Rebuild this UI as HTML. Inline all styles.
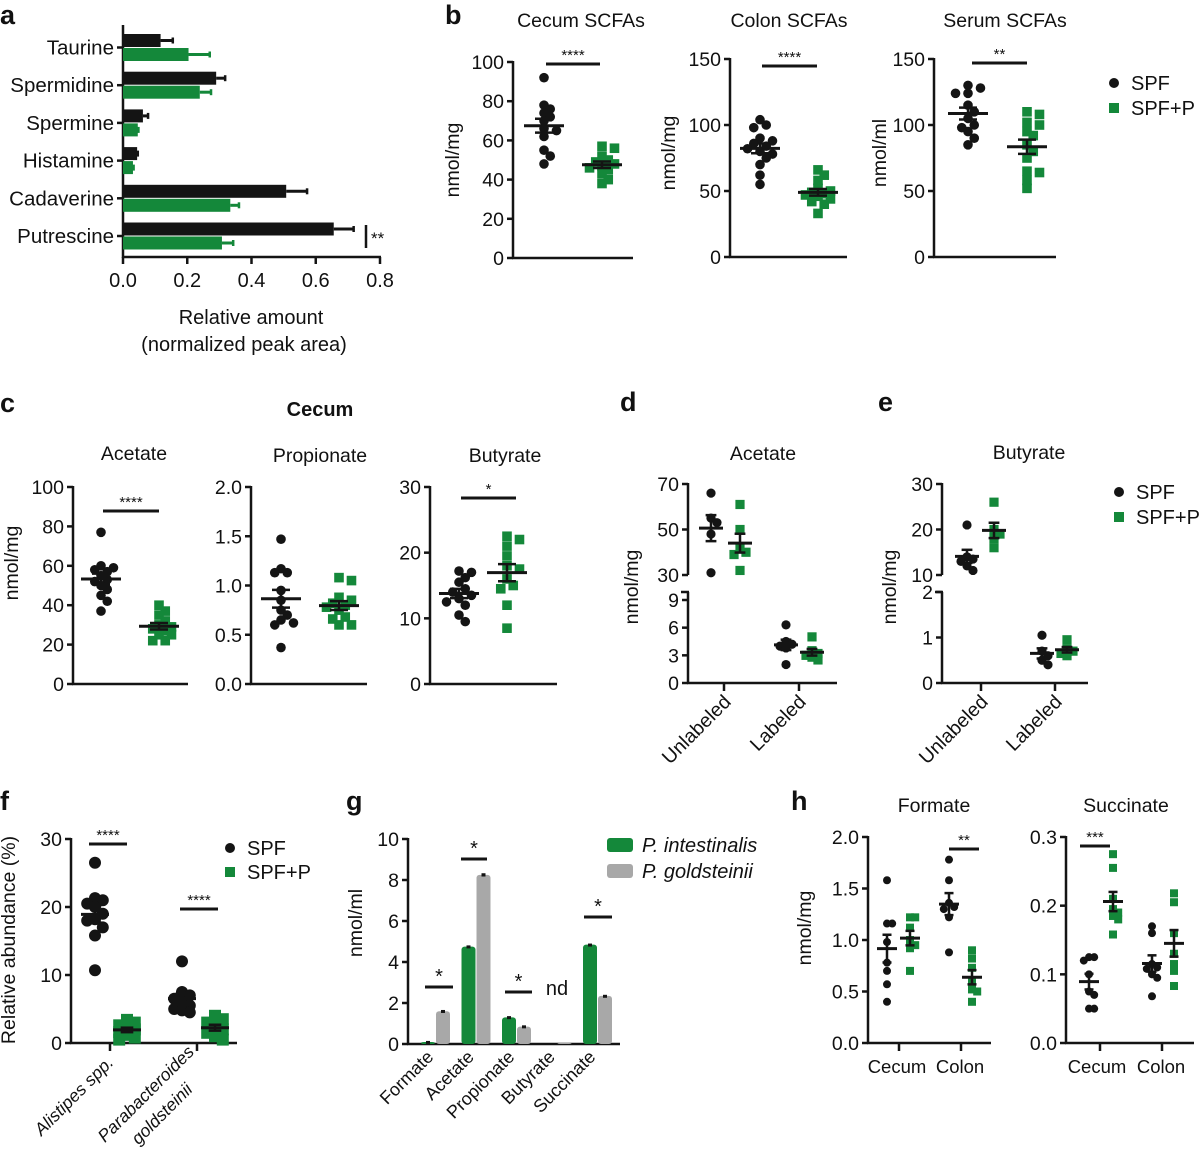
<!DOCTYPE html>
<html><head><meta charset="utf-8"><title>Figure</title>
<style>
html,body{margin:0;padding:0;background:#fff;}
svg{display:block;font-family:"Liberation Sans",Arial,sans-serif;}
</style></head>
<body>
<svg id="fig" width="1200" height="1149" viewBox="0 0 1200 1149"></svg>
<script>
// ---------- DATA ----------
// panel a
const aCategories=["Taurine","Spermidine","Spermine","Histamine","Cadaverine","Putrescine"];
const aSPF=[0.117,0.29,0.062,0.044,0.508,0.656];
const aSPFerr=[0.155,0.318,0.078,0.046,0.573,0.718];
const aSPFP=[0.204,0.239,0.046,0.031,0.334,0.308];
const aSPFPerr=[0.27,0.274,0.048,0.033,0.361,0.343];
const aTicks=[0,0.2,0.4,0.6,0.8];
const aTickLabels=["0.0","0.2","0.4","0.6","0.8"];
// panel b
const bCecumSPF=[92,78,76,72,74,70,65,66,62,55,52,48];
const bCecumSPFP=[57,56,52,50,48,49,47,46,45,43,40,38];
const bColonSPF=[104,100,98,90,88,86,84,82,80,78,75,70,62,55];
const bColonSPFP=[66,62,58,52,50,49,48,47,46,44,42,40,33];
const bSerumSPF=[130,128,124,124,115,110,105,100,98,95,90,85];
const bSerumSPFP=[110,108,102,100,95,92,85,80,75,65,64,58,52];
const bTicksCecum=[0,20,40,60,80,100];
const bTicks150=[0,50,100,150];
// panel c
const cAcetateSPF=[77,60,59,58,57,55,53,52,50,48,45,42,37];
const cAcetateSPFP=[40,37,35,32,30,29,28,27,25,25,22,22];
const cPropSPF=[1.47,1.17,1.13,1.13,0.95,0.85,0.75,0.7,0.65,0.62,0.6,0.37];
const cPropSPFP=[1.08,1.05,0.88,0.85,0.82,0.8,0.78,0.75,0.68,0.66,0.6,0.6];
const cButSPF=[17.2,17,16.2,15.5,14.5,14,13.5,13,12.5,12,10.5,9.5];
const cButSPFP=[22.5,22,21,19.5,18,17.5,16,15,14.5,12,8.5];
const cTicksAce=[0,20,40,60,80,100];
const cTicksProp=[0,0.5,1.0,1.5,2.0];
const cTickLabelsProp=["0.0","0.5","1.0","1.5","2.0"];
const cTicksBut=[0,10,20,30];
// panel d
const dUnlSPF=[66,55,53,48,31];
const dUnlSPFP=[61,50,42,40,39,32];
const dLabSPF=[6.3,4.5,4.2,4.0,3.8,2.0];
const dLabSPFP=[5,3.5,3.2,3.0,2.8,2.5];
const dTicksUpper=[30,50,70];
const dTicksLower=[0,3,6,9];
// panel e
const eUnlSPF=[21,14,13.5,13,12,11];
const eUnlSPFP=[26,20,19,18,16];
const eLabSPF=[1.05,0.7,0.6,0.5,0.4];
const eLabSPFP=[0.95,0.75,0.7,0.65,0.6];
const eTicksUpper=[10,20,30];
const eTicksLower=[0,1,2];
// panel f
const fAliSPF=[26.5,21.3,21,20.5,20,19,18.2,18,17,15.8,10.7];
const fAliSPFP=[3.4,3.0,2.6,2.2,2.0,1.6,1.2,0.8,0.5];
const fParaSPF=[12,7.5,7,6.5,6,5.5,5,4.8,4.5];
const fParaSPFP=[4,3.5,3,2.5,2,1.5,1,0.5];
const fTicks=[0,10,20,30];
// panel g
const gCategories=["Formate","Acetate","Propionate","Butyrate","Succinate"];
const gIntest=[0.1,4.75,1.3,0,4.85];
const gIntestErr=[0.05,0.06,0.06,0,0.05];
const gGold=[1.6,8.25,0.85,0.05,2.35];
const gGoldErr=[0.06,0.08,0.06,0,0.05];
const gTicks=[0,2,4,6,8,10];
// panel h
const hFormCecSPF=[1.58,1.16,1.16,0.98,0.78,0.7,0.57,0.4];
const hFormCecSPFP=[1.22,1.22,1.12,1.0,0.95,0.92,0.7];
const hFormColSPF=[1.78,1.58,1.36,1.32,1.3,1.22,0.88];
const hFormColSPFP=[0.9,0.82,0.73,0.6,0.52,0.5,0.4];
const hSuccCecSPF=[0.125,0.125,0.12,0.1,0.075,0.07,0.05,0.05];
const hSuccCecSPFP=[0.275,0.255,0.21,0.195,0.19,0.185,0.18,0.158];
const hSuccColSPF=[0.17,0.16,0.115,0.11,0.108,0.1,0.095,0.068];
const hSuccColSPFP=[0.218,0.205,0.16,0.13,0.115,0.105,0.083];
const hTicksForm=[0,0.5,1.0,1.5,2.0];
const hTickLabelsForm=["0.0","0.5","1.0","1.5","2.0"];
const hTicksSucc=[0,0.1,0.2,0.3];
const hTickLabelsSucc=["0.0","0.1","0.2","0.3"];

// ---------- HELPERS ----------
const NS="http://www.w3.org/2000/svg";
const svg=document.getElementById("fig");
const BLACK="#141414", GREEN="#14883a", GRAY="#a8a8a8";
function mk(tag,attrs,name,parent){
  const e=document.createElementNS(NS,tag);
  for(const k in attrs) e.setAttribute(k,attrs[k]);
  
  
  (parent||svg).appendChild(e);
  return e;
}
function txt(x,y,s,opt,name,parent){
  opt=opt||{};
  const e=mk("text",{x:x,y:y,"font-size":opt.size||19.5,"text-anchor":opt.anchor||"start",fill:opt.fill||"#111","font-weight":opt.weight||"normal","font-style":opt.style||"normal"},name,parent);
  if(opt.rot!==undefined) e.setAttribute("transform","rotate("+opt.rot+" "+x+" "+y+")");
  e.textContent=s;
  return e;
}
function line(x1,y1,x2,y2,w,name,color,parent){
  return mk("line",{x1:x1,y1:y1,x2:x2,y2:y2,stroke:color||BLACK,"stroke-width":w||2.5},name,parent);
}
function lin(d0,d1,r0,r1){return v=>r0+(v-d0)*(r1-r0)/(d1-d0);}
function mean(a){return a.reduce((s,v)=>s+v,0)/a.length;}
function sem(a){const m=mean(a);const v=a.reduce((s,x)=>s+(x-m)*(x-m),0)/(a.length-1);return Math.sqrt(v/a.length);}
function yAxis(g,ax,ticks,labels,y,name,sz){
  ticks.forEach((t,i)=>{
    line(ax-6,y(t),ax,y(t),2.5,name+"-tick",BLACK,g);
    txt(ax-9,y(t)+7,labels?labels[i]:String(t),{anchor:"end",size:sz||19.5},name+"-tick-label",g);
  });
}
function drawGroup(g,vals,cx,y,color,shape,r,halfMean,name,spread){
  const placed=[];
  const order=vals.map((v,i)=>i).sort((a,b)=>vals[b]-vals[a]);
  const step=r*1.3;
  const maxOff=spread||halfMean;
  order.forEach(i=>{
    const py=y(vals[i]);
    let off=0,best=null,bestD=-1;
    for(let k=0;k<20;k++){
      const o=(k===0)?0:((k%2?1:-1)*Math.ceil(k/2)*step);
      if(Math.abs(o)>maxOff) break;
      const d=placed.length?Math.min(...placed.map(p=>Math.hypot(p[0]-(cx+o),p[1]-py))):99;
      if(d>=r*1.5){best=o;break;}
      if(d>bestD){bestD=d;off=o;}
    }
    if(best!==null) off=best;
    placed.push([cx+off,py]);
    if(shape==="circle"){
      mk("circle",{cx:cx+off,cy:py,r:r,fill:color},name+"-point",g);
    }else{
      mk("rect",{x:cx+off-r,y:py-r,width:2*r,height:2*r,fill:color},name+"-point",g);
    }
  });
  const m=mean(vals),s=sem(vals);
  line(cx-halfMean,y(m),cx+halfMean,y(m),3,name+"-mean",BLACK,g);
  line(cx,y(m-s),cx,y(m+s),2.5,name+"-sem",BLACK,g);
  line(cx-halfMean*0.45,y(m+s),cx+halfMean*0.45,y(m+s),2.5,name+"-sem-cap",BLACK,g);
  line(cx-halfMean*0.45,y(m-s),cx+halfMean*0.45,y(m-s),2.5,name+"-sem-cap",BLACK,g);
}
function sig(g,x1,x2,yy,stars,name,sz){
  line(x1,yy,x2,yy,3,name+"-bar",BLACK,g);
  txt((x1+x2)/2,yy-4,stars,{anchor:"middle",size:sz||15},name+"-stars",g);
}
function group(name){return mk("g",{},name);}

// ---------- PANEL A ----------
(function(){
  const g=group("panel-a");
  txt(0,24,"a",{size:27,weight:"bold"},"panel-label-a",g);
  const x=lin(0,0.8,123,380);
  const rowY=i=>47.5+i*37.7;
  line(123,25,123,258,2.5,"y-axis",BLACK,g);
  line(122,257,381,257,2.5,"x-axis",BLACK,g);
  aTicks.forEach((t,i)=>{
    line(x(t),257,x(t),264,2.5,"x-tick",BLACK,g);
    txt(x(t),287,aTickLabels[i],{anchor:"middle",size:20}, "x-tick-label",g);
  });
  aCategories.forEach((c,i)=>{
    const cy=rowY(i);
    line(117,cy,123,cy,2.5,"y-tick",BLACK,g);
    txt(114,cy+7,c,{anchor:"end",size:20.5},"category-label",g);
    mk("rect",{x:123,y:cy-13.5,width:x(aSPF[i])-123,height:13,fill:BLACK},"bar-spf-"+c.toLowerCase(),g);
    line(x(aSPF[i]),cy-7,x(aSPFerr[i]),cy-7,3,"error-spf",BLACK,g);
    line(x(aSPFerr[i]),cy-10,x(aSPFerr[i]),cy-4,2.5,"error-cap-spf",BLACK,g);
    mk("rect",{x:123,y:cy+0.5,width:x(aSPFP[i])-123,height:13,fill:GREEN},"bar-spfp-"+c.toLowerCase(),g);
    line(x(aSPFP[i]),cy+7,x(aSPFPerr[i]),cy+7,3,"error-spfp",GREEN,g);
    line(x(aSPFPerr[i]),cy+4,x(aSPFPerr[i]),cy+10,2.5,"error-cap-spfp",GREEN,g);
  });
  line(366,225,366,248,2.5,"significance-line",BLACK,g);
  txt(371,244,"**",{size:17},"significance-stars",g);
  txt(251,324,"Relative amount",{anchor:"middle",size:20},"x-axis-title",g);
  txt(244,351,"(normalized peak area)",{anchor:"middle",size:20},"x-axis-subtitle",g);
})();

// ---------- generic scatter panel ----------
function scatterPanel(p){
  const g=group(p.name);
  const y=lin(p.d0,p.d1,p.y0,p.y1);
  line(p.ax,p.y1-1,p.ax,p.y0+1,2.5,"y-axis",BLACK,g);
  line(p.ax-1,p.y0,p.xEnd,p.y0,2.5,"x-axis",BLACK,g);
  yAxis(g,p.ax,p.ticks,p.labels,y,"y",p.tsz);
  (p.gticks||[]).forEach(t=>line(t,p.y0,t,p.y0+8,2.5,"group-tick",BLACK,g));
  p.groups.forEach(gr=>drawGroup(g,gr.vals,gr.cx,y,gr.color,gr.shape,p.r,p.half,gr.name,p.spread));
  if(p.title) txt(p.title[0],p.title[1],p.title[2],{anchor:"middle",size:19.5},"panel-title",g);
  if(p.ylab) txt(p.ylab[0],p.ylab[1],p.ylab[2],{anchor:"middle",size:19.5,rot:-90},"y-axis-title",g);
  (p.sigs||[]).forEach(s=>sig(g,s[0],s[1],s[2],s[3],"significance",s[4]));
  return g;
}
function spf(v,cx,n){return {vals:v,cx:cx,color:BLACK,shape:"circle",name:n+"-spf"};}
function spfp(v,cx,n){return {vals:v,cx:cx,color:GREEN,shape:"square",name:n+"-spfp"};}

// ---------- PANEL B ----------
txt(445,24,"b",{size:27,weight:"bold"},"panel-label-b");
scatterPanel({name:"panel-b-cecum",ax:513,xEnd:633,y0:258,y1:62,d0:0,d1:100,ticks:bTicksCecum,r:4.8,half:20,spread:18,
  groups:[spf(bCecumSPF,544,"cecum"),spfp(bCecumSPFP,602,"cecum")],title:[581,27,"Cecum SCFAs"],ylab:[459,160,"nmol/mg"],sigs:[[546,600,64,"****"]]});
scatterPanel({name:"panel-b-colon",ax:730,xEnd:847,y0:257,y1:59,d0:0,d1:150,ticks:bTicks150,r:4.8,half:20,spread:18,
  groups:[spf(bColonSPF,760,"colon"),spfp(bColonSPFP,818,"colon")],title:[789,27,"Colon SCFAs"],ylab:[675,153,"nmol/mg"],sigs:[[762,817,66,"****"]]});
scatterPanel({name:"panel-b-serum",ax:934,xEnd:1056,y0:257,y1:59,d0:0,d1:150,ticks:bTicks150,r:4.8,half:20,spread:18,
  groups:[spf(bSerumSPF,968,"serum"),spfp(bSerumSPFP,1027,"serum")],title:[1005,27,"Serum SCFAs"],ylab:[886,153,"nmol/ml"],sigs:[[972,1027,63,"**"]]});
function legend(x,y1,y2,name){
  const g=group(name);
  mk("circle",{cx:x,cy:y1,r:5,fill:BLACK},"legend-marker-spf",g);
  txt(x+17,y1+7,"SPF",{size:20},"legend-label-spf",g);
  mk("rect",{x:x-5,y:y2-5,width:10,height:10,fill:GREEN},"legend-marker-spfp",g);
  txt(x+17,y2+7,"SPF+P",{size:20},"legend-label-spfp",g);
}
legend(1114,83,108,"legend-b");

// ---------- PANEL C ----------
txt(0,412,"c",{size:27,weight:"bold"},"panel-label-c");
txt(320,416,"Cecum",{anchor:"middle",size:20,weight:"bold"},"panel-c-title");
scatterPanel({name:"panel-c-acetate",ax:73,xEnd:188,y0:684,y1:487,d0:0,d1:100,ticks:cTicksAce,r:4.8,half:20,spread:18,
  groups:[spf(cAcetateSPF,101,"acetate"),spfp(cAcetateSPFP,159,"acetate")],title:[134,460,"Acetate"],ylab:[18,563,"nmol/mg"],sigs:[[103,159,511,"****"]]});
scatterPanel({name:"panel-c-propionate",ax:251,xEnd:367,y0:684,y1:487,d0:0,d1:2,ticks:cTicksProp,labels:cTickLabelsProp,r:4.8,half:20,spread:18,
  groups:[spf(cPropSPF,281,"propionate"),spfp(cPropSPFP,339,"propionate")],title:[320,462,"Propionate"]});
scatterPanel({name:"panel-c-butyrate",ax:430,xEnd:557,y0:684,y1:487,d0:0,d1:30,ticks:cTicksBut,r:4.8,half:20,spread:18,
  groups:[spf(cButSPF,459,"butyrate"),spfp(cButSPFP,507,"butyrate")],title:[505,462,"Butyrate"],sigs:[[461,516,498,"*"]]});

// ---------- PANELS D/E (broken axes) ----------
function brokenPanel(p){
  const g=group(p.name);
  const yu=lin(p.u0,p.u1,p.uy0,p.uy1), yl=lin(p.l0,p.l1,p.ly0,p.ly1);
  const ySel=v=>v>p.l1?yu(v):yl(v);
  line(p.ax,p.uy1-1,p.ax,p.uy0,2.5,"y-axis-upper",BLACK,g);
  line(p.ax,p.lTop,p.ax,p.ly0+1,2.5,"y-axis-lower",BLACK,g);
  line(p.ax-7,p.lTop,p.ax+1,p.lTop,2.5,"axis-break-tick",BLACK,g);
  line(p.ax-1,p.ly0,p.xEnd,p.ly0,2.5,"x-axis",BLACK,g);
  yAxis(g,p.ax,p.uTicks,null,yu,"y-upper");
  yAxis(g,p.ax,p.lTicks,null,yl,"y-lower");
  p.gticks.forEach((t,i)=>{
    line(t,p.ly0,t,p.ly0+8,2.5,"group-tick",BLACK,g);
    txt(t+8,p.ly0+20,p.glabels[i],{anchor:"end",rot:-45,size:19.5},"x-tick-label",g);
  });
  p.groups.forEach(gr=>drawGroup(g,gr.vals,gr.cx,ySel,gr.color,gr.shape,4.6,12,gr.name,8));
  txt(p.title[0],p.title[1],p.title[2],{anchor:"middle"},"panel-title",g);
  txt(p.ylab[0],p.ylab[1],"nmol/mg",{anchor:"middle",rot:-90},"y-axis-title",g);
}
txt(620,411,"d",{size:27,weight:"bold"},"panel-label-d");
brokenPanel({name:"panel-d-acetate",ax:688,xEnd:837,u0:30,u1:70,uy0:575,uy1:484,l0:0,l1:9,ly0:683,ly1:600,lTop:592,
  uTicks:dTicksUpper,lTicks:dTicksLower,gticks:[724,799],glabels:["Unlabeled","Labeled"],
  groups:[spf(dUnlSPF,711,"unlabeled"),spfp(dUnlSPFP,740,"unlabeled"),spf(dLabSPF,786,"labeled"),spfp(dLabSPFP,812,"labeled")],
  title:[763,460,"Acetate"],ylab:[638,587]});
txt(878,411,"e",{size:27,weight:"bold"},"panel-label-e");
brokenPanel({name:"panel-e-butyrate",ax:942,xEnd:1088,u0:10,u1:30,uy0:575,uy1:484,l0:0,l1:2,ly0:683,ly1:592,lTop:592,
  uTicks:eTicksUpper,lTicks:eTicksLower,gticks:[981,1055],glabels:["Unlabeled","Labeled"],
  groups:[spf(eUnlSPF,967,"unlabeled"),spfp(eUnlSPFP,994,"unlabeled"),spf(eLabSPF,1042,"labeled"),spfp(eLabSPFP,1067,"labeled")],
  title:[1029,459,"Butyrate"],ylab:[896,587]});
legend(1119,492,517,"legend-e");

// ---------- PANEL F ----------
txt(0,810,"f",{size:27,weight:"bold"},"panel-label-f");
(function(){
  const g=scatterPanel({name:"panel-f",ax:71,xEnd:237,y0:1043,y1:839,d0:0,d1:30,ticks:fTicks,r:6,half:14,spread:12,gticks:[110,197],
    groups:[spf(fAliSPF,95,"alistipes"),spfp(fAliSPFP,127,"alistipes"),spf(fParaSPF,182,"parabacteroides"),spfp(fParaSPFP,215,"parabacteroides")],
    ylab:[15,940,"Relative abundance (%)"],sigs:[[89,127,844,"****"],[180,218,909,"****"]]});
  txt(78,1100,"Alistipes spp.",{anchor:"middle",rot:-45,style:"italic",size:17.5},"x-tick-label-alistipes",g);
  txt(150,1098,"Parabacteroides",{anchor:"middle",rot:-45,style:"italic",size:17.5},"x-tick-label-parabacteroides",g);
  txt(166,1118,"goldsteinii",{anchor:"middle",rot:-45,style:"italic",size:17.5},"x-tick-label-goldsteinii",g);
})();
legend(230,848,872,"legend-f");

// ---------- PANEL G ----------
txt(346,810,"g",{size:27,weight:"bold"},"panel-label-g");
(function(){
  const g=group("panel-g");
  const y=lin(0,10,1044,839);
  const cx=i=>435.5+i*40.5;
  line(408,838,408,1045,2.5,"y-axis",BLACK,g);
  line(407,1044,620,1044,2.5,"x-axis",BLACK,g);
  yAxis(g,408,gTicks,null,y,"y");
  gCategories.forEach((c,i)=>{
    const xc=cx(i);
    mk("rect",{x:xc-14.5,y:y(gIntest[i]),width:14,height:1044-y(gIntest[i]),fill:GREEN,rx:3},"bar-intestinalis-"+c.toLowerCase(),g);
    mk("rect",{x:xc+0.5,y:y(gGold[i]),width:14,height:1044-y(gGold[i]),fill:GRAY,rx:3},"bar-goldsteinii-"+c.toLowerCase(),g);
    if(gIntest[i]>0) mk("rect",{x:xc-9.5,y:y(gIntest[i]+gIntestErr[i]),width:4,height:Math.max(3,y(gIntest[i]-gIntestErr[i])-y(gIntest[i]+gIntestErr[i])),fill:BLACK},"error-intestinalis",g);
    if(gGold[i]>0.1) mk("rect",{x:xc+5.5,y:y(gGold[i]+gGoldErr[i]),width:4,height:Math.max(3,y(gGold[i]-gGoldErr[i])-y(gGold[i]+gGoldErr[i])),fill:BLACK},"error-goldsteinii",g);
    txt(xc-1,1058,c,{anchor:"end",rot:-45,size:18},"x-tick-label",g);
  });
  sig(g,425,453,987,"*","significance",20);
  sig(g,461,487,859,"*","significance",20);
  sig(g,505,532,992,"*","significance",20);
  sig(g,584,612,917,"*","significance",20);
  txt(557,995,"nd",{anchor:"middle",size:20},"not-detected-label",g);
  txt(362,923,"nmol/ml",{anchor:"middle",rot:-90},"y-axis-title",g);
  mk("rect",{x:607,y:838,width:26,height:14,fill:GREEN,rx:3},"legend-marker-intestinalis",g);
  txt(642,852,"P. intestinalis",{style:"italic",size:20},"legend-label-intestinalis",g);
  mk("rect",{x:607,y:864,width:26,height:14,fill:GRAY,rx:3},"legend-marker-goldsteinii",g);
  txt(642,878,"P. goldsteinii",{style:"italic",size:20},"legend-label-goldsteinii",g);
})();

// ---------- PANEL H ----------
txt(791,810,"h",{size:27,weight:"bold"},"panel-label-h");
(function(){
  const g1=scatterPanel({name:"panel-h-formate",ax:868,xEnd:991,y0:1043,y1:837,d0:0,d1:2,ticks:hTicksForm,labels:hTickLabelsForm,r:4,half:10,spread:7,gticks:[899,961],
    groups:[spf(hFormCecSPF,887,"formate-cecum"),spfp(hFormCecSPFP,910,"formate-cecum"),spf(hFormColSPF,949,"formate-colon"),spfp(hFormColSPFP,972,"formate-colon")],
    title:[934,812,"Formate"],ylab:[811,928,"nmol/mg"],sigs:[[949,979,849,"**"]]});
  txt(897,1073,"Cecum",{anchor:"middle",size:18.5},"x-tick-label",g1);
  txt(960,1073,"Colon",{anchor:"middle",size:18.5},"x-tick-label",g1);
  const g2=scatterPanel({name:"panel-h-succinate",ax:1066,xEnd:1194,y0:1043,y1:837,d0:0,d1:0.3,ticks:hTicksSucc,labels:hTickLabelsSucc,r:4,half:10,spread:7,gticks:[1100,1162],
    groups:[spf(hSuccCecSPF,1089,"succinate-cecum"),spfp(hSuccCecSPFP,1113,"succinate-cecum"),spf(hSuccColSPF,1152,"succinate-colon"),spfp(hSuccColSPFP,1174,"succinate-colon")],
    title:[1126,812,"Succinate"],sigs:[[1080,1110,846,"***"]]});
  txt(1097,1073,"Cecum",{anchor:"middle",size:18.5},"x-tick-label",g2);
  txt(1161,1073,"Colon",{anchor:"middle",size:18.5},"x-tick-label",g2);
})();
</script>
</body></html>
